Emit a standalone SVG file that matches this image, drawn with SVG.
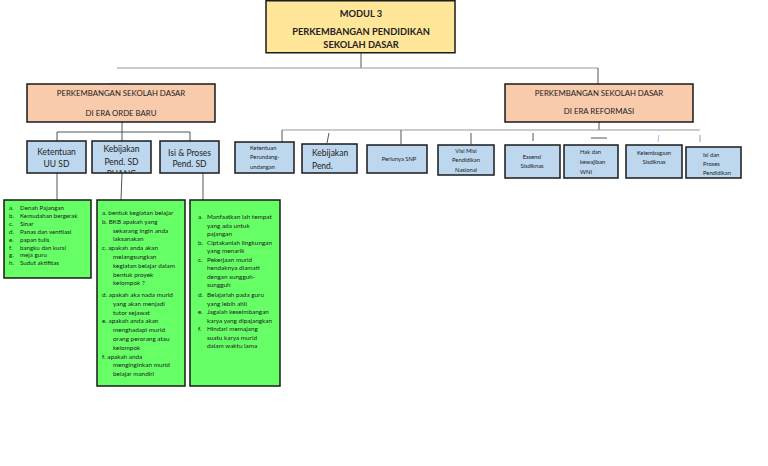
<svg xmlns="http://www.w3.org/2000/svg" width="768" height="466" viewBox="0 0 768 466">
<defs>
<style>
text{font-family:Lato,"Liberation Sans",sans-serif;fill:#222}
.box{stroke:#1a1a1a;stroke-width:1.5}
.y{fill:#FFE699}
.p{fill:#F8CBAD}
.b{fill:#BDD7EE}
.g{fill:#66FF66}
.ln{stroke:#555;stroke-width:1;fill:none}
.lg{stroke:#999;stroke-width:1;fill:none}
.t{font-size:9.3px;font-weight:bold;text-anchor:middle}
.m{font-size:7.8px;text-anchor:middle}
.c{font-size:8.5px;text-anchor:middle}
.s{font-size:5.8px}
.sm{font-size:5.8px;text-anchor:middle}
.gt{font-size:6.4px}
</style>
<clipPath id="cb2"><rect x="92" y="141" width="59" height="32"/></clipPath>
</defs>
<g id="connectors">
<line class="ln" x1="361" y1="53" x2="361" y2="68"/>
<line class="lg" x1="117" y1="68" x2="598" y2="68"/>
<line class="ln" x1="598" y1="68" x2="598" y2="84"/>
<line class="lg" x1="108" y1="84" x2="127" y2="84"/>
<line class="ln" x1="122" y1="122" x2="122" y2="132"/>
<line class="ln" x1="57" y1="132" x2="190" y2="132"/>
<line class="ln" x1="57" y1="132" x2="57" y2="142"/>
<line class="ln" x1="122" y1="132" x2="122" y2="142"/>
<line class="ln" x1="190" y1="132" x2="190" y2="142"/>
<line class="ln" x1="57" y1="173" x2="57" y2="200"/>
<line class="ln" x1="122" y1="173" x2="121" y2="200"/>
<line class="ln" x1="203" y1="173" x2="203" y2="200"/>
<line class="ln" x1="599" y1="122" x2="599" y2="130"/>
<line class="lg" x1="282" y1="130" x2="700" y2="130"/>
<line class="ln" x1="282" y1="130" x2="282" y2="143"/>
<line class="ln" x1="329" y1="133" x2="327" y2="143"/>
<line class="ln" x1="401" y1="130" x2="401" y2="144"/>
<line class="ln" x1="471" y1="133" x2="471" y2="144"/>
<line class="ln" x1="533" y1="133" x2="533" y2="141"/>
<line class="ln" x1="591" y1="138" x2="607" y2="138"/>
<line stroke="#9DC3E6" stroke-width="1" x1="659" y1="135" x2="658" y2="142"/>
<line class="lg" x1="700" y1="135" x2="700" y2="142"/>
</g>
<g id="n-top">
<rect class="box y" x="266" y="0.75" width="189" height="52"/>
<text class="t" x="361" y="16.5">MODUL 3</text>
<text class="t" x="361" y="34.5">PERKEMBANGAN PENDIDIKAN</text>
<text class="t" x="361" y="47.5">SEKOLAH DASAR</text>
</g>
<g id="n-orde">
<rect class="box p" x="27" y="84" width="188" height="38"/>
<text class="m" x="121" y="96">PERKEMBANGAN SEKOLAH DASAR</text>
<text class="m" x="121" y="116">DI ERA ORDE BARU</text>
</g>
<g id="n-reformasi">
<rect class="box p" x="505" y="84" width="188" height="38"/>
<text class="m" x="599" y="96">PERKEMBANGAN SEKOLAH DASAR</text>
<text class="m" x="599" y="114">DI ERA REFORMASI</text>
</g>
<g id="n-uu">
<rect class="box b" x="27" y="141" width="59" height="32"/>
<text class="c" x="56.5" y="155">Ketentuan</text>
<text class="c" x="56.5" y="167">UU SD</text>
</g>
<g id="n-kebijakan">
<rect class="box b" x="92" y="141" width="59" height="32"/>
<g clip-path="url(#cb2)">
<text class="c" x="121.5" y="152">Kebijakan</text>
<text class="c" x="121.5" y="165">Pend.  SD</text>
<text class="c" x="121.5" y="177">PUANG</text>
</g>
</g>
<g id="n-isi">
<rect class="box b" x="160" y="141" width="59" height="32"/>
<text class="c" x="189.5" y="156">Isi &amp; Proses</text>
<text class="c" x="189.5" y="167">Pend. SD</text>
</g>
<g id="n-g1">
<rect class="box g" x="4" y="200" width="87" height="78"/>
<g class="gt" style="font-size:6.2px">
<text x="9" y="210">a.</text><text x="20" y="210">Denah Pajangan</text>
<text x="9" y="218">b.</text><text x="20" y="218">Kemudahan bergerak</text>
<text x="9" y="226">c.</text><text x="20" y="226">Sinar</text>
<text x="9" y="234">d.</text><text x="20" y="234">Panas dan ventilasi</text>
<text x="9" y="242">e.</text><text x="20" y="242">papan tulis</text>
<text x="9" y="250">f.</text><text x="20" y="250">bangku dan kursi</text>
<text x="9" y="257">g.</text><text x="20" y="257">meja guru</text>
<text x="9" y="265">h.</text><text x="20" y="265">Sudut aktifitas</text>
</g>
</g>
<g id="n-g2">
<rect class="box g" x="97" y="200" width="88" height="186"/>
<g class="gt">
<text x="102" y="215">a. bentuk kegiatan belajar</text>
<text x="102" y="223.8">b. BKB apakah yang</text>
<text x="113" y="232.6">sekarang ingin anda</text>
<text x="113" y="241.4">laksanakan</text>
<text x="102" y="250.2">c. apakah anda akan</text>
<text x="113" y="259">melangsungkan</text>
<text x="113" y="267.8">kegiatan belajar dalam</text>
<text x="113" y="276.6">bentuk proyek</text>
<text x="113" y="285.4">kelompok ?</text>
<text x="102" y="297">d. apakah aka nada murid</text>
<text x="113" y="305.8">yang akan menjadi</text>
<text x="113" y="314.6">tutor sejawat</text>
<text x="102" y="323.4">e. apakah anda akan</text>
<text x="113" y="332.2">menghadapi murid</text>
<text x="113" y="341">orang perorang atau</text>
<text x="113" y="349.8">kelompok</text>
<text x="102" y="358.6">f. apakah anda</text>
<text x="113" y="367.4">menginginkan murid</text>
<text x="113" y="376.2">belajar mandiri</text>
</g>
</g>
<g id="n-g3">
<rect class="box g" x="190" y="200" width="90" height="186"/>
<g class="gt">
<text x="198" y="219">a.</text><text x="207" y="219">Manfaatkan lah tempat</text>
<text x="207" y="227.5">yang ada untuk</text>
<text x="207" y="236">pajangan</text>
<text x="198" y="244.5">b.</text><text x="207" y="244.5">Ciptakanlah lingkungan</text>
<text x="207" y="253">yang menarik</text>
<text x="198" y="261.5">c.</text><text x="207" y="261.5">Pekerjaan murid</text>
<text x="207" y="270">hendaknya diamati</text>
<text x="207" y="278.5">dengan sungguh-</text>
<text x="207" y="287">sungguh</text>
<text x="198" y="297">d.</text><text x="207" y="297">Belajarlah pada guru</text>
<text x="207" y="305.5">yang lebih ahli</text>
<text x="198" y="314">e.</text><text x="207" y="314">Jagalah keseimbangan</text>
<text x="207" y="322.5">karya yang dipajangkan</text>
<text x="198" y="331">f.</text><text x="207" y="331">Hindari memajang</text>
<text x="207" y="339.5">suatu karya murid</text>
<text x="207" y="348">dalam waktu lama</text>
</g>
</g>
<g id="n-ketentuan">
<rect class="box b" x="235" y="142" width="59" height="31"/>
<text class="s" x="250" y="150">Ketentuan</text>
<text class="s" x="250" y="159">Perundang-</text>
<text class="s" x="250" y="169">undangan</text>
</g>
<g id="n-kebijakan2">
<rect class="box b" x="302" y="144" width="55" height="29" stroke-width="2"/>
<text x="312" y="156" font-size="8.5">Kebijakan</text>
<text x="312" y="169" font-size="8.5">Pend.</text>
</g>
<g id="n-snp">
<rect class="box b" x="367" y="145" width="60" height="28"/>
<text class="sm" x="399" y="161">Perlunya SNP</text>
</g>
<g id="n-visi">
<rect class="box b" x="438" y="145" width="56" height="30"/>
<text class="sm" x="466" y="153">Visi Misi</text>
<text class="sm" x="466" y="162">Pendidikan</text>
<text class="sm" x="466" y="172">Nasional</text>
</g>
<g id="n-essensi">
<rect class="box b" x="505" y="145" width="55" height="33"/>
<text class="sm" x="532" y="159">Essensi</text>
<text class="sm" x="532" y="168">Sisdiknas</text>
</g>
<g id="n-hak">
<rect class="box b" x="564" y="145" width="54" height="33"/>
<text class="s" x="580" y="154">Hak dan</text>
<text class="s" x="580" y="164">kewajiban</text>
<text class="s" x="580" y="174">WNI</text>
</g>
<g id="n-kelembagaan">
<rect class="box b" x="626" y="145" width="56" height="33"/>
<text class="sm" x="654" y="155">Kelembagaan</text>
<text class="sm" x="654" y="164">Sisdiknas</text>
</g>
<g id="n-isi2">
<rect class="box b" x="686" y="147" width="55" height="31" stroke-width="2"/>
<text class="s" x="703" y="157">Isi dan</text>
<text class="s" x="703" y="166">Proses</text>
<text class="s" x="703" y="175">Pendidikan</text>
</g>
</svg>
